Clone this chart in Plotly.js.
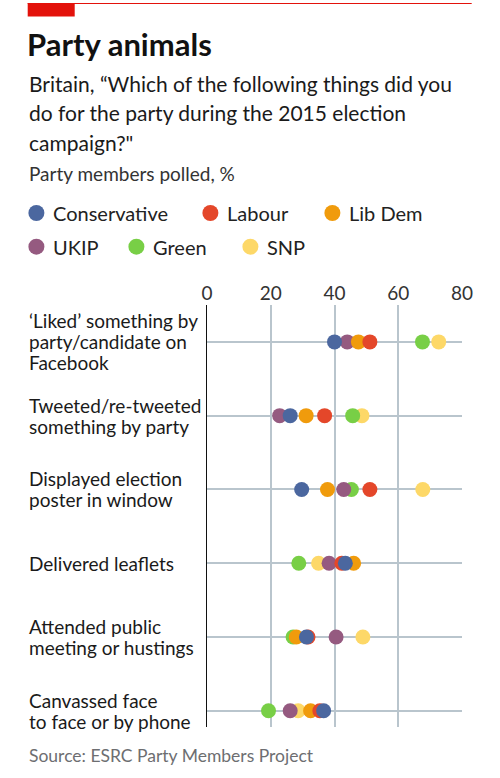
<!DOCTYPE html>
<html>
<head>
<meta charset="utf-8">
<script src="https://cdn.plot.ly/plotly-3.0.1.min.js"></script>
<style>html,body{margin:0;padding:0;background:#fff;}#chart{width:500px;height:778px;}</style>
</head>
<body>
<div id="chart"></div>
<script>
// ---- data ----
const categories = [
  "‘Liked’ something by\nparty/candidate on\nFacebook",
  "Tweeted/re-tweeted\nsomething by party",
  "Displayed election\nposter in window",
  "Delivered leaflets",
  "Attended public\nmeeting or hustings",
  "Canvassed face\nto face or by phone"
];
const parties = ["Conservative", "Labour", "Lib Dem", "UKIP", "Green", "SNP"];
const partyColors = ["#4b679f", "#e4472a", "#f09b0c", "#955a80", "#78cf46", "#fdd868"];
const conservative = [40.0, 26.1, 29.7, 43.4, 31.2, 36.6];
const labour       = [51.1, 36.9, 51.1, 42.3, 31.7, 35.4];
const libDem       = [47.5, 31.1, 37.8, 46.0, 28.0, 32.5];
const ukip         = [44.0, 22.8, 42.9, 38.3, 40.5, 26.1];
const green        = [67.6, 45.7, 45.3, 28.8, 27.0, 19.3];
const snp          = [72.7, 48.6, 67.7, 35.0, 48.9, 28.6];
const xTicks = [0, 20, 40, 60, 80];

const seriesValues = [conservative, labour, libDem, ukip, green, snp];

// ---- layout geometry ----
const W = 500, H = 778;
const L = 207.3, R = W - 462.3, T = 305, B = H - 727;
const PW = W - L - R, PH = H - T - B;
const fx = px => (px - L) / PW;
const fy = py => (H - B - py) / PH;
const FONT = "Lato, 'Open Sans', sans-serif";

const catLabels = categories.map(c => c.replace(/\n/g, " "));

// draw order: bottom to top
const drawOrder = [5, 4, 3, 2, 1, 0];
const traces = drawOrder.map(i => ({
  type: "scatter",
  mode: "markers",
  name: parties[i],
  x: seriesValues[i],
  y: catLabels,
  marker: { color: partyColors[i], size: 15, line: { width: 0 } },
  showlegend: false,
  hoverinfo: "x+name"
}));

const annotations = [];
const shapes = [];

// category labels (left-aligned, multi-line)
categories.forEach((c, ci) => {
  const lines = c.split("\n");
  lines.forEach((ln, li) => {
    annotations.push({
      xref: "paper", yref: "y", x: fx(27), y: catLabels[ci],
      xanchor: "left", yanchor: "middle",
      yshift: -(li - (lines.length - 1) / 2) * 21,
      text: ln, showarrow: false,
      font: { family: FONT, size: 19, color: "#1a1a1a" }
    });
  });
});

// subtitle lines
const subtitleLines = [
  "Britain, “Which of the following things did you",
  "do for the party during the 2015 election",
  "campaign?\""
];
subtitleLines.forEach((t, i) => {
  annotations.push({
    xref: "paper", yref: "paper", x: fx(27), y: fy(83 + i * 29.5),
    xanchor: "left", yanchor: "middle", text: t, showarrow: false,
    font: { family: FONT, size: 21, color: "#1a1a1a" }
  });
});
annotations.push({
  xref: "paper", yref: "paper", x: fx(27), y: fy(173),
  xanchor: "left", yanchor: "middle", text: "Party members polled, %", showarrow: false,
  font: { family: FONT, size: 19, color: "#333" }
});
annotations.push({
  xref: "paper", yref: "paper", x: fx(27), y: fy(755),
  xanchor: "left", yanchor: "middle", text: "Source: ESRC Party Members Project", showarrow: false,
  font: { family: FONT, size: 17.5, color: "#6d6e71" }
});

// legend
const legendPos = [[36.7, 213], [210.7, 213], [332.7, 213], [36.7, 246.7], [136.7, 246.7], [250.7, 246.7]];
parties.forEach((p, i) => {
  const [cx, cy] = legendPos[i];
  shapes.push({
    type: "circle", xref: "paper", yref: "paper",
    xsizemode: "pixel", ysizemode: "pixel",
    xanchor: fx(cx), yanchor: fy(cy),
    x0: -8, x1: 8, y0: -8, y1: 8,
    fillcolor: partyColors[i], line: { width: 0 }
  });
  annotations.push({
    xref: "paper", yref: "paper", x: fx(cx + 15), y: fy(cy),
    xanchor: "left", yanchor: "middle", text: p, showarrow: false,
    font: { family: FONT, size: 20, color: "#222" }
  });
});

// top red rule and tag
shapes.push({
  type: "line", xref: "paper", yref: "paper",
  x0: fx(28), x1: fx(472), y0: fy(3.5), y1: fy(3.5),
  line: { color: "#e3120b", width: 1 }
});
shapes.push({
  type: "rect", xref: "paper", yref: "paper",
  x0: fx(28), x1: fx(75), y0: fy(16.5), y1: fy(3),
  fillcolor: "#e3120b", line: { width: 0 }
});

const layout = {
  width: W, height: H,
  margin: { l: L, r: R, t: T, b: B, pad: 0 },
  paper_bgcolor: "#fff", plot_bgcolor: "#fff",
  title: {
    text: "<b>Party animals</b>",
    xref: "container", yref: "container",
    x: 27 / W, xanchor: "left",
    y: 1 - 45 / H, yanchor: "middle",
    font: { family: FONT, size: 31, color: "#111" }
  },
  xaxis: {
    range: [0, 80], side: "top",
    tickvals: xTicks, ticktext: xTicks.map(String),
    showgrid: true, gridcolor: "#b9c5cd", gridwidth: 2,
    zeroline: false, showline: false, ticks: "",
    tickfont: { family: FONT, size: 19, color: "#333" },
    fixedrange: true
  },
  yaxis: {
    type: "category", categoryorder: "array", categoryarray: catLabels,
    range: [5.22, -0.5], autorange: false,
    showticklabels: false, ticks: "",
    showgrid: true, gridcolor: "#b9c5cd", gridwidth: 2,
    zeroline: false, showline: true, linecolor: "#111", linewidth: 1.5,
    fixedrange: true
  },
  showlegend: false,
  annotations: annotations,
  shapes: shapes
};

Plotly.newPlot("chart", traces, layout, { displayModeBar: false, staticPlot: true });
</script>
</body>
</html>
